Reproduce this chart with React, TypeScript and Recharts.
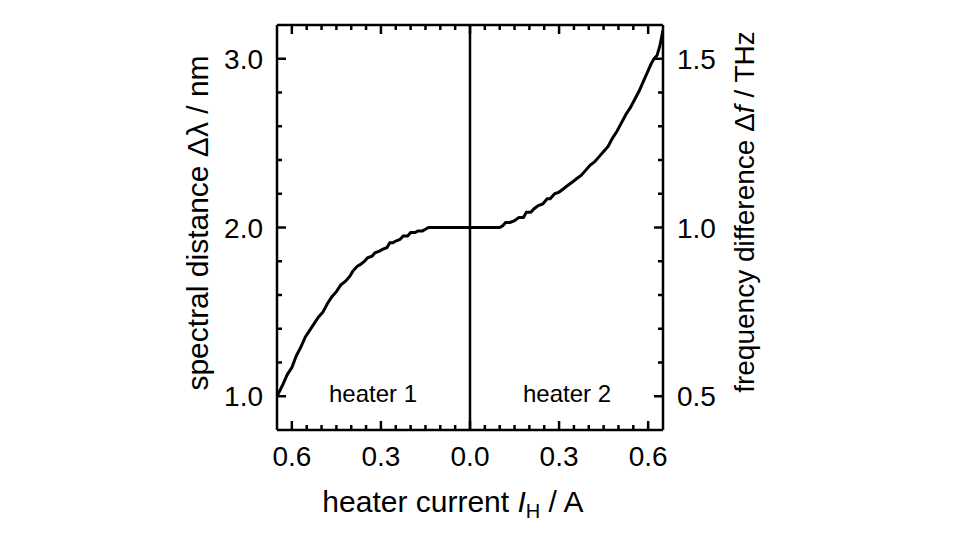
import { LineChart, Line, XAxis, YAxis, ReferenceLine } from 'recharts';

// heater 1 branch (current in A, spectral distance in nm)
const heater1Current = [
  0.125, 0.14, 0.15, 0.16, 0.175, 0.185, 0.2, 0.21, 0.225, 0.235, 0.25, 0.26, 0.27, 0.28, 0.295,
  0.305, 0.32, 0.33, 0.345, 0.355, 0.37, 0.38, 0.395, 0.405, 0.42, 0.435, 0.45, 0.465, 0.48, 0.495,
  0.51, 0.525, 0.54, 0.555, 0.57, 0.585, 0.6, 0.615, 0.63, 0.65,
];
const heater1Distance = [
  2.0, 2.0, 1.99, 1.98, 1.98, 1.97, 1.97, 1.95, 1.95, 1.93, 1.92, 1.91, 1.91, 1.88, 1.87,
  1.86, 1.85, 1.83, 1.82, 1.8, 1.78, 1.77, 1.74, 1.71, 1.68, 1.66, 1.62, 1.59, 1.55, 1.5,
  1.47, 1.43, 1.39, 1.35, 1.29, 1.24, 1.17, 1.13, 1.07, 1.0,
];

// heater 2 branch
const heater2Current = [
  0.1, 0.11, 0.12, 0.135, 0.15, 0.165, 0.18, 0.19, 0.205, 0.215, 0.23, 0.245, 0.26, 0.27, 0.285,
  0.3, 0.315, 0.33, 0.345, 0.36, 0.375, 0.39, 0.405, 0.42, 0.435, 0.45, 0.465, 0.48, 0.495, 0.51,
  0.525, 0.54, 0.555, 0.57, 0.585, 0.6, 0.61, 0.62, 0.63, 0.64, 0.65,
];
const heater2Distance = [
  2.0, 2.01, 2.03, 2.03, 2.04, 2.06, 2.06, 2.09, 2.09, 2.11, 2.13, 2.14, 2.17, 2.17, 2.2,
  2.21, 2.23, 2.25, 2.27, 2.29, 2.31, 2.34, 2.37, 2.39, 2.42, 2.45, 2.48, 2.53, 2.57, 2.62,
  2.67, 2.71, 2.76, 2.81, 2.87, 2.93, 2.97, 3.0, 3.02, 3.08, 3.17,
];

const xMajorTicks = [-0.6, -0.3, 0, 0.3, 0.6];
const xMinorTicks = [
  -0.55, -0.5, -0.45, -0.4, -0.35, -0.25, -0.2, -0.15, -0.1, -0.05,
  0.05, 0.1, 0.15, 0.2, 0.25, 0.35, 0.4, 0.45, 0.5, 0.55,
];
const leftMajorTicks = [1, 2, 3];
const leftMinorTicks = [1.2, 1.4, 1.6, 1.8, 2.2, 2.4, 2.6, 2.8];
const rightMajorTicks = [0.5, 1, 1.5];
const rightMinorTicks = [0.6, 0.7, 0.8, 0.9, 1.1, 1.2, 1.3, 1.4];

// heater 1 is plotted to the left of zero
const data = [
  ...heater1Current.map((c, i) => ({ x: -c, y: heater1Distance[i] })).reverse(),
  ...heater2Current.map((c, i) => ({ x: c, y: heater2Distance[i] })),
];

const font = '"Liberation Sans", Arial, sans-serif';
const ink = { stroke: '#000', strokeWidth: 2.5 };
const xDomain = [-0.65, 0.65];
const leftDomain = [0.8, 3.2];
const rightDomain = [0.4, 1.6];

const MARGIN = { top: 24, right: 296, bottom: 109, left: 276 };
const PLOT_W = 960 - MARGIN.left - MARGIN.right - 2;
const PLOT_H = 540 - MARGIN.top - MARGIN.bottom - 2;
const xPerPx = (xDomain[1] - xDomain[0]) / PLOT_W;
const yPerPx = (leftDomain[1] - leftDomain[0]) / PLOT_H;
const MAJOR = 9;
const MINOR = 5;

const GAP = 20;
type Side = 'bottom' | 'left' | 'right';

// label only; the tick marks are drawn as reference segments
function makeLabel(side: Side, fmt: (v: number) => string) {
  return (props: any) => {
    const { x, y, payload } = props;
    const v = payload.value as number;
    const common = { fill: '#000', fontSize: 28, fontFamily: font };
    if (side === 'bottom') return <text x={x} y={y - GAP + 36} textAnchor="middle" {...common}>{fmt(v)}</text>;
    if (side === 'left') return <text x={x + GAP - 14} y={y + 10} textAnchor="end" {...common}>{fmt(v)}</text>;
    return <text x={x - GAP + 14} y={y + 10} textAnchor="start" {...common}>{fmt(v)}</text>;
  };
}

const fmtX = (v: number) => Math.abs(v).toFixed(1);
const fmtY = (v: number) => v.toFixed(1);

// inward ticks on bottom and top frame
function xTickSegments(values: number[], len: number) {
  const out: any[] = [];
  values.forEach((v) => {
    out.push(
      <ReferenceLine key={`b${v}`} xAxisId="b" yAxisId="l" ifOverflow="visible" stroke="#000" strokeWidth={2.5}
        segment={[{ x: v, y: leftDomain[0] }, { x: v, y: leftDomain[0] + len * yPerPx }]} />,
      <ReferenceLine key={`t${v}`} xAxisId="b" yAxisId="l" ifOverflow="visible" stroke="#000" strokeWidth={2.5}
        segment={[{ x: v, y: leftDomain[1] }, { x: v, y: leftDomain[1] - len * yPerPx }]} />,
    );
  });
  return out;
}

function leftTickSegments(values: number[], len: number) {
  return values.map((v) => (
    <ReferenceLine key={`l${v}`} xAxisId="b" yAxisId="l" ifOverflow="visible" stroke="#000" strokeWidth={2.5}
      segment={[{ x: xDomain[0], y: v }, { x: xDomain[0] + len * xPerPx, y: v }]} />
  ));
}

function rightTickSegments(values: number[], len: number) {
  return values.map((v) => (
    <ReferenceLine key={`r${v}`} xAxisId="b" yAxisId="r" ifOverflow="visible" stroke="#000" strokeWidth={2.5}
      segment={[{ x: xDomain[1], y: v }, { x: xDomain[1] - len * xPerPx, y: v }]} />
  ));
}

export default function App() {
  return (
    <div style={{ position: 'absolute', left: 0, top: 0, width: 960, height: 540, background: '#fff' }}>
      <LineChart width={960} height={540} data={data} margin={MARGIN}>
        <XAxis
          xAxisId="b"
          type="number"
          dataKey="x"
          domain={xDomain}
          ticks={xMajorTicks}
          interval={0}
          height={1}
          tickSize={0}
          tickMargin={GAP}
          axisLine={ink}
          tickLine={false}
          tick={makeLabel('bottom', fmtX)}
          allowDataOverflow
        />
        <XAxis xAxisId="t" orientation="top" type="number" domain={xDomain} height={1}
          axisLine={ink} tickLine={false} tick={false} allowDataOverflow />
        <YAxis
          yAxisId="l"
          type="number"
          domain={leftDomain}
          ticks={leftMajorTicks}
          interval={0}
          width={1}
          tickSize={0}
          tickMargin={GAP}
          axisLine={ink}
          tickLine={false}
          tick={makeLabel('left', fmtY)}
          allowDataOverflow
        />
        <YAxis
          yAxisId="r"
          orientation="right"
          type="number"
          domain={rightDomain}
          ticks={rightMajorTicks}
          interval={0}
          width={1}
          tickSize={0}
          tickMargin={GAP}
          axisLine={ink}
          tickLine={false}
          tick={makeLabel('right', fmtY)}
          allowDataOverflow
        />
        {xTickSegments(xMajorTicks, MAJOR)}
        {xTickSegments(xMinorTicks, MINOR)}
        {leftTickSegments(leftMajorTicks, MAJOR)}
        {leftTickSegments(leftMinorTicks, MINOR)}
        {rightTickSegments(rightMajorTicks, MAJOR)}
        {rightTickSegments(rightMinorTicks, MINOR)}
        <ReferenceLine xAxisId="b" yAxisId="l" x={0} stroke="#000" strokeWidth={2.5} />
        <Line
          xAxisId="b"
          yAxisId="l"
          type="linear"
          dataKey="y"
          stroke="#000"
          strokeWidth={3}
          dot={false}
          isAnimationActive={false}
        />
      </LineChart>
      <svg
        width={960}
        height={540}
        style={{ position: 'absolute', left: 0, top: 0, pointerEvents: 'none' }}
        fontFamily={font}
        fill="#000"
      >
        <text x={373} y={402} textAnchor="middle" fontSize={24}>heater 1</text>
        <text x={567} y={402} textAnchor="middle" fontSize={24}>heater 2</text>
        <text x={453} y={512} textAnchor="middle" fontSize={30}>
          heater current <tspan fontStyle="italic">I</tspan>
          <tspan fontSize={20} dy={6}>H</tspan>
          <tspan dy={-6}> / A</tspan>
        </text>
        <text transform="translate(208,223) rotate(-90)" textAnchor="middle" fontSize={30}>
          spectral distance Δλ / nm
        </text>
        <text transform="translate(754,212) rotate(-90)" textAnchor="middle" fontSize={28}>
          frequency difference Δ<tspan fontStyle="italic">f</tspan> / THz
        </text>
      </svg>
    </div>
  );
}
